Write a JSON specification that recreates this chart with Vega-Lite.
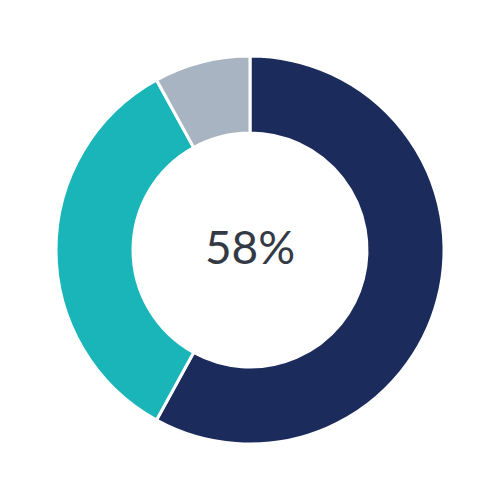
{
  "$schema": "https://vega.github.io/schema/vega-lite/v6.json",
  "width": 500,
  "height": 500,
  "autosize": {"type": "fit", "contains": "padding"},
  "padding": 0,
  "background": "white",
  "config": {"view": {"stroke": null}, "legend": {"disable": true}},
  "data": {
    "values": [
      {"segment": "A", "share": 58, "order": 1},
      {"segment": "B", "share": 34, "order": 2},
      {"segment": "C", "share": 8, "order": 3}
    ]
  },
  "layer": [
    {
      "mark": {"type": "arc", "outerRadius": 194, "innerRadius": 117, "stroke": "white", "strokeWidth": 3},
      "encoding": {
        "theta": {"field": "share", "type": "quantitative", "stack": true},
        "order": {"field": "order"},
        "color": {
          "field": "segment",
          "type": "nominal",
          "scale": {"domain": ["A", "B", "C"], "range": ["#1b2b5b", "#1ab5b8", "#a9b4c2"]}
        }
      }
    },
    {
      "data": {"values": [{"label": "58%"}]},
      "mark": {"type": "text", "font": "Lato", "fontSize": 46, "fontWeight": "normal", "color": "#343a45", "baseline": "middle", "align": "center"},
      "encoding": {"text": {"field": "label"}}
    }
  ]
}
